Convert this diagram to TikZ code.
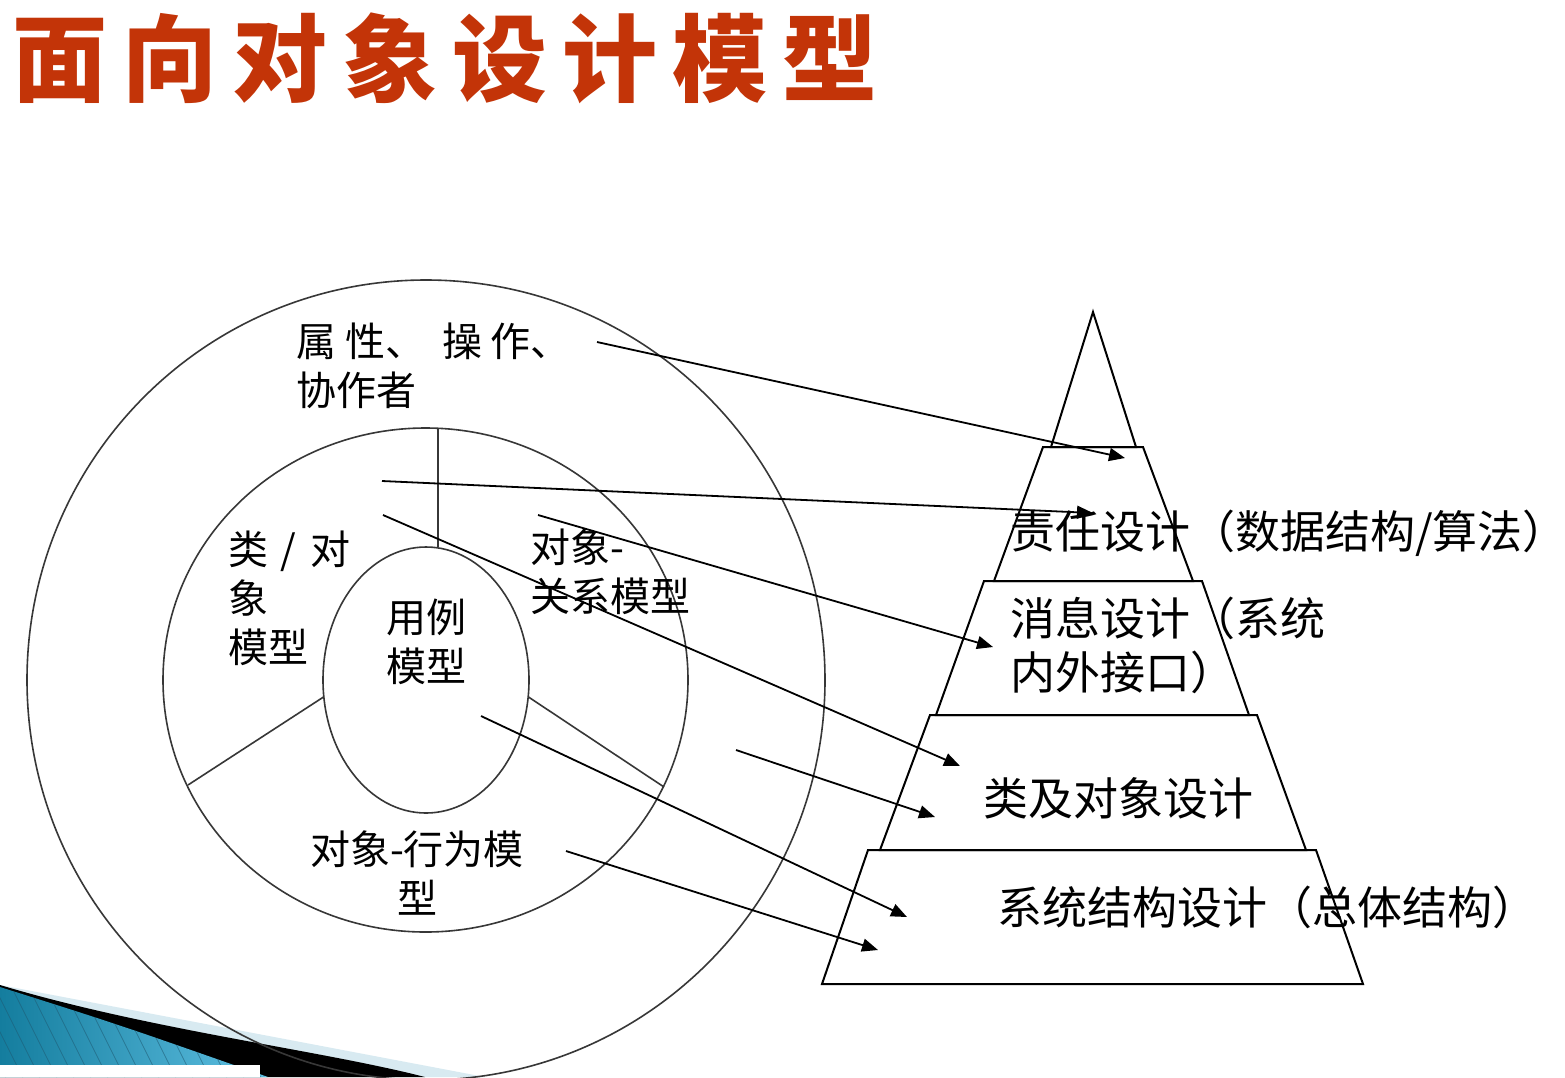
\documentclass[tikz,border=0pt]{standalone}
\usepackage{fontspec}
\newfontfamily\cjk{Noto Sans CJK SC}
\usetikzlibrary{arrows.meta}
\definecolor{titlered}{RGB}{195,52,8}
\definecolor{ringgray}{RGB}{55,55,55}
\definecolor{paleblue}{RGB}{216,234,241}
\definecolor{blueA}{RGB}{20,125,158}
\definecolor{blueB}{RGB}{95,192,226}
\definecolor{hatchc}{RGB}{30,90,115}
\newcommand{\tgap}{\hspace{15pt}}
\begin{document}
\begin{tikzpicture}[x=1pt,y=-1pt,
  ring/.style={draw=ringgray, line width=1.6pt},
  tier/.style={draw=black, line width=2pt, line join=miter},
  link/.style={draw=black, line width=1.8pt, -{Triangle[length=16pt,width=13pt]}},
  lbl/.style={font=\cjk\fontsize{40}{49}\selectfont, inner sep=0pt, align=left},
  plbl/.style={font=\cjk\fontsize{45}{54}\selectfont, inner sep=0pt, align=left},
  titlestyle/.style={font=\cjk\bfseries\fontsize{95}{100}\selectfont, inner sep=0pt, anchor=west},
]
\useasboundingbox (0,0) rectangle (1565,1077);
\fill[white] (0,0) rectangle (1565,1077);

% ---- title ----
\node[titlestyle, text=titlered] (title) at (12,58) {面\tgap 向\tgap 对\tgap 象\tgap 设\tgap 计\tgap 模\tgap 型};

% ---- bottom-left decoration ----
\fill[paleblue] (0,985) -- (485,1077) -- (0,1077) -- cycle;
\fill[black] (0,985) .. controls (150,1030) and (320,1050) .. (425,1077) -- (0,1077) -- cycle;
\shade[left color=blueA, right color=blueB] (0,987) .. controls (120,1025) .. (268,1077) -- (0,1077) -- cycle;
\begin{scope}
  \clip (0,987) .. controls (120,1025) .. (268,1077) -- (0,1077) -- cycle;
  \foreach \i in {-60,-43,...,300} \draw[hatchc, line width=0.7pt, opacity=0.55] (\i,980) -- ++(50,100);
\end{scope}
\fill[white] (0,1065) rectangle (260,1077);

% ---- rings ----
\draw[ring] (426,680) circle[x radius=399pt, y radius=400pt];
\draw[ring] (425.5,680) ellipse[x radius=262.5pt, y radius=252pt];
\draw[ring] (426,680) ellipse[x radius=103pt, y radius=133pt];
\coordinate (dv1) at (438,429); \coordinate (dv2) at (438,547);
\coordinate (dl1) at (323.5,697); \coordinate (dl2) at (188,785);
\coordinate (dr1) at (528.5,697); \coordinate (dr2) at (664,787);
\draw[ring] (dv1) -- (dv2);
\draw[ring] (dl1) -- (dl2);
\draw[ring] (dr1) -- (dr2);

% ---- ring labels ----
\node[lbl, anchor=west] (attr) at (296,366) {属\hspace{9pt}性、\hspace{17pt}操\hspace{8pt}作、\\协作者};
\node[lbl, anchor=west] (classobj) at (228,598) {类\hspace{12pt}/\hspace{15pt}对\\象\\模型};
\node[lbl, align=center] (usecase) at (426,642) {用例\\模型};
\node[lbl, anchor=west] (objrel) at (530,572) {对象-\\关系模型};
\node[lbl, align=center] (objbeh) at (417,873) {对象-行为模\\型};

% ---- pyramid ----
\draw[tier] (1093,312) -- (1136,447) -- (1051,447) -- cycle;
\draw[tier] (1043,447) -- (1143,447) -- (1193,581) -- (994,581) -- cycle;
\draw[tier] (984,581) -- (1202,581) -- (1249,715) -- (936,715) -- cycle;
\draw[tier] (930,715) -- (1257,715) -- (1306,850) -- (880,850) -- cycle;
\draw[tier] (868,850) -- (1316,850) -- (1363,984) -- (822,984) -- cycle;

\node[plbl, anchor=west] (resp) at (1010,533) {责任设计（数据结构/算法）};
\node[plbl, anchor=west] (msg) at (1010,645) {消息设计（系统\\内外接口）};
\node[plbl, anchor=west] (cls) at (983,798) {类及对象设计};
\node[plbl, anchor=west] (sys) at (997,907) {系统结构设计（总体结构）};

% ---- arrows ----
\coordinate (t1) at (597,342);  \coordinate (h1) at (1125,458);
\coordinate (t2) at (382,481);  \coordinate (h2) at (1093,513);
\coordinate (t3) at (538,515);  \coordinate (h3) at (993,647);
\coordinate (t4) at (383,515);  \coordinate (h4) at (960,766);
\coordinate (t5) at (736,750);  \coordinate (h5) at (935,817);
\coordinate (t6) at (481,716);  \coordinate (h6) at (907,917);
\coordinate (t7) at (566,851);  \coordinate (h7) at (878,950);
\foreach \k in {1,...,7} \draw[link] (t\k) -- (h\k);
\end{tikzpicture}
\end{document}
